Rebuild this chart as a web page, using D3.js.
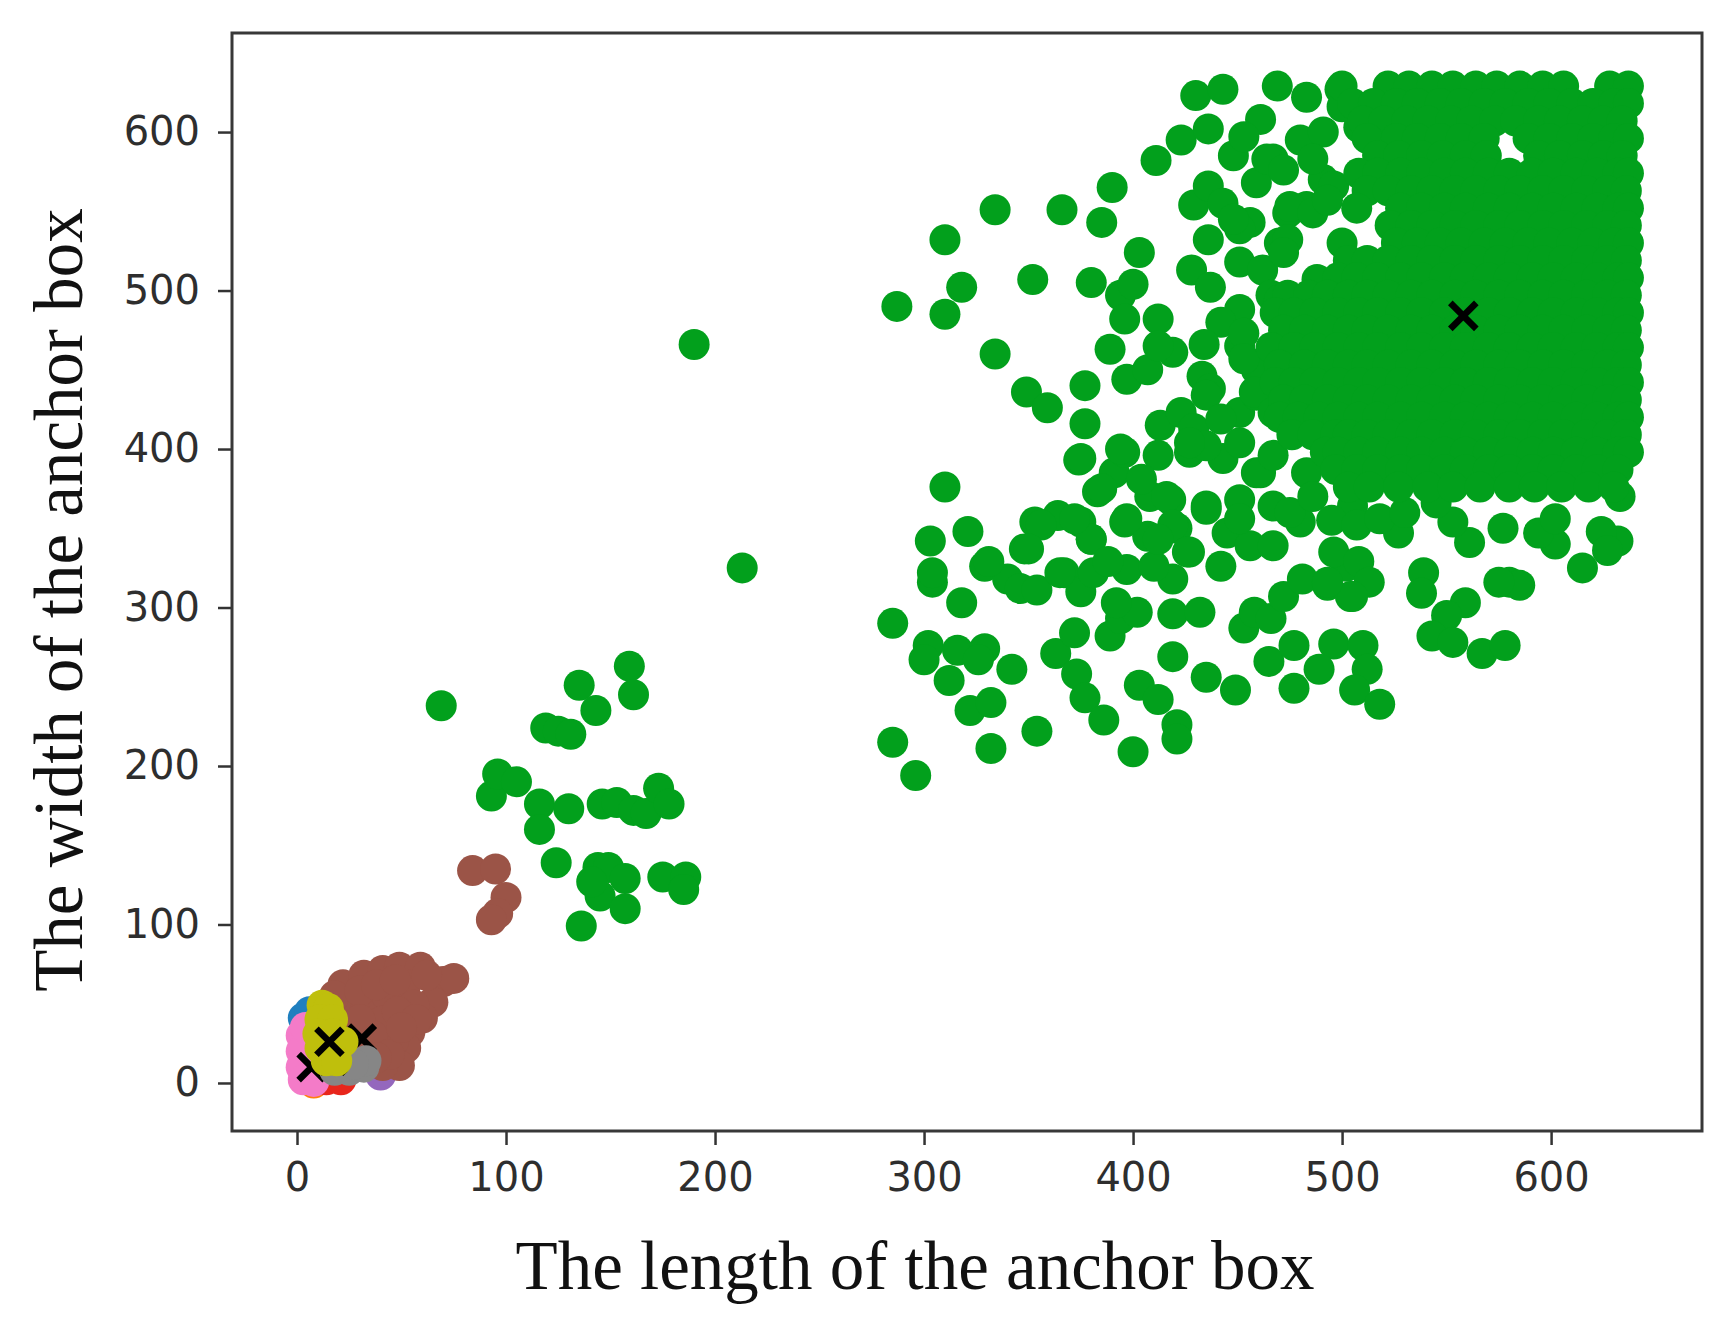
<!DOCTYPE html>
<html>
<head>
<meta charset="utf-8">
<script src="https://cdn.jsdelivr.net/npm/d3@7"></script>
<style>
  body { margin: 0; background: #fff; }
  .tick text { font-family: "DejaVu Sans", sans-serif; font-size: 40px; fill: #2e2e2e; }
  .tick line { stroke: #333; stroke-width: 2.5; }
  .axis-title { font-family: "Liberation Serif", "Times New Roman", serif; font-size: 69px; fill: #111; }
</style>
</head>
<body>
<div id="chart"></div>
<script>
/* DATA */
const xTicks = [0, 100, 200, 300, 400, 500, 600];
const yTicks = [0, 100, 200, 300, 400, 500, 600];
const xLabel = 'The length of the anchor box';
const yLabel = 'The width of the anchor box';

// small clusters near the origin
const bluePts = [[3, 41], [6, 45]];
const orangePts = [[8, 0]];
const redPts = [[14, 2], [21, 2]];
const purplePts = [[40, 5]];
const brownPts = [
  [22, 62], [32, 68], [41, 71], [49, 73], [59, 73], [70, 64], [75, 66], [65, 51], [60, 41],
  [54, 32], [52, 22], [49, 11], [41, 11], [33, 22], [27, 32], [24, 45], [33, 49], [43, 55],
  [52, 62], [41, 39], [46, 26], [56, 49], [62, 68], [18, 55], [30, 58], [38, 62], [47, 65],
  [36, 30], [30, 40], [48, 45], [44, 18], [38, 16], [57, 40], [50, 35],
  [84, 134], [95, 135], [100, 117], [96, 107], [93, 103]
];
const pinkPts = [[2, 30], [2, 20], [2, 10], [3, 2], [8, 1], [4, 35]];
const grayPts = [[18, 8], [25, 8], [32, 10], [33, 14], [27, 12]];
const olivePts = [
  [12, 49], [15, 47], [11, 40], [17, 40], [10, 31], [17, 31], [11, 22], [18, 22], [22, 26],
  [14, 14], [19, 14]
];

// green cluster: scattered points
const greenPts = [
  [69, 238], [93, 181], [96, 195], [105, 190], [116, 176], [116, 160], [119, 224], [125, 222],
  [131, 220], [130, 173], [124, 139], [135, 251], [143, 235], [159, 263], [161, 245], [146, 176],
  [153, 177], [161, 172], [167, 170], [173, 186], [178, 176], [144, 136], [149, 136], [157, 129],
  [145, 118], [157, 110], [136, 99], [175, 130], [186, 130], [185, 122], [141, 127], [190, 466],
  [213, 325],
  [310, 376], [303, 342], [321, 348], [304, 316], [318, 303], [285, 290], [302, 276], [300, 267],
  [316, 273], [329, 274], [326, 267], [312, 254], [342, 261], [322, 235], [332, 240], [285, 215],
  [296, 194], [332, 211], [354, 222], [363, 271], [372, 284], [373, 258], [377, 243], [386, 229],
  [400, 209], [421, 226], [421, 217], [403, 251], [412, 242], [419, 269], [435, 256], [449, 248],
  [465, 266], [389, 282], [394, 293], [402, 297], [392, 303], [419, 296], [432, 297], [453, 287],
  [458, 297], [466, 293], [472, 307], [481, 318], [493, 314], [504, 307], [329, 326], [340, 318],
  [346, 312], [354, 311], [348, 337], [353, 354], [364, 358], [375, 354], [380, 343], [367, 322],
  [375, 310], [381, 322], [374, 393], [383, 373], [391, 385], [396, 398], [396, 354], [397, 324],
  [408, 370], [407, 345], [418, 368], [421, 350], [427, 335], [419, 318], [410, 326], [435, 364],
  [442, 326], [445, 347], [456, 339], [467, 339], [459, 385], [467, 364], [483, 385], [480, 354],
  [502, 326], [505, 364], [412, 396], [427, 398], [443, 394], [451, 368],
  [287, 490], [310, 532], [310, 485], [318, 502], [334, 551], [334, 460], [352, 507], [366, 551],
  [385, 543], [390, 565], [403, 524], [380, 505], [394, 497], [400, 504], [396, 482], [412, 482],
  [389, 463], [397, 444], [407, 450], [419, 461], [412, 465], [349, 436], [359, 426], [377, 440],
  [377, 416], [375, 394], [411, 582], [423, 595], [430, 623], [443, 627], [436, 602], [429, 554],
  [436, 566], [443, 555], [456, 543], [451, 539], [436, 532], [428, 513], [437, 502], [451, 518],
  [462, 513], [451, 488], [442, 480], [434, 466], [433, 446], [437, 438], [413, 415], [423, 423],
  [394, 400], [385, 375], [404, 381], [416, 370], [429, 413], [435, 402], [451, 423], [459, 434],
  [451, 465], [459, 450], [466, 497], [470, 530], [474, 549], [448, 585], [461, 608], [453, 597],
  [469, 629], [483, 622], [499, 627], [459, 568], [467, 583], [480, 595], [483, 553], [491, 570],
  [435, 362], [451, 356], [461, 385], [467, 396], [475, 360], [486, 370], [419, 352], [426, 335],
  [412, 343], [397, 356], [380, 343], [372, 356], [356, 352], [350, 337], [331, 329], [304, 322],
  [365, 322], [388, 329], [464, 583], [491, 600], [508, 603], [472, 576], [486, 583], [496, 566],
  [448, 545], [475, 553], [474, 532], [486, 549], [493, 557], [472, 524], [470, 494], [483, 494],
  [488, 507], [453, 473], [453, 457], [435, 434], [442, 419], [458, 436], [467, 423], [475, 436],
  [427, 404], [451, 404], [500, 616], [500, 629],
  [633, 370], [632, 342], [624, 348], [627, 336], [615, 325], [602, 340], [594, 347], [602, 356],
  [577, 350], [561, 341], [553, 354], [580, 316], [585, 314], [575, 316], [539, 322], [538, 309],
  [559, 303], [550, 295], [543, 282], [553, 278], [567, 271], [578, 276], [527, 347], [496, 335],
  [508, 329], [513, 316], [505, 307], [493, 316], [477, 276], [496, 277], [510, 276], [512, 261],
  [489, 261], [477, 249], [506, 248], [518, 239], [495, 355], [507, 352], [518, 356], [530, 360],
  [545, 366]
];

// green cluster: the dense block, one row per width value [width, [lengths]]
const greenRows = [
  [629, [522, 532, 543, 553, 564, 574, 585, 596, 606, 628, 637]],
  [618, [505, 515, 526, 536, 547, 557, 568, 578, 589, 599, 610, 620, 630, 637]],
  [607, [510, 520, 531, 541, 552, 562, 573, 583, 594, 604, 615, 625, 634]],
  [596, [512, 526, 536, 547, 557, 568, 589, 599, 610, 620, 630, 637]],
  [585, [517, 527, 538, 548, 559, 569, 594, 604, 615, 625, 634]],
  [574, [508, 517, 528, 538, 549, 559, 570, 580, 591, 601, 612, 622, 632, 637]],
  [563, [512, 522, 533, 543, 554, 564, 575, 585, 596, 606, 617, 627, 636]],
  [552, [507, 528, 538, 549, 559, 570, 580, 591, 601, 612, 622, 632, 637]],
  [541, [523, 533, 543, 554, 564, 575, 585, 596, 606, 617, 627, 636]],
  [530, [500, 526, 536, 547, 557, 568, 578, 589, 599, 610, 620, 630, 637]],
  [519, [503, 512, 522, 533, 543, 554, 564, 575, 585, 596, 606, 617, 627, 636]],
  [508, [498, 507, 517, 528, 538, 549, 559, 570, 580, 591, 601, 612, 622, 632, 637]],
  [497, [474, 484, 493, 503, 512, 522, 533, 543, 554, 564, 575, 585, 596, 606, 617, 627, 636]],
  [486, [468, 477, 487, 498, 508, 517, 528, 538, 549, 559, 570, 580, 591, 601, 612, 622, 632, 637]],
  [475, [472, 482, 493, 503, 512, 522, 533, 543, 554, 564, 575, 585, 596, 606, 617, 627, 636]],
  [464, [466, 477, 487, 498, 508, 517, 528, 538, 549, 559, 570, 580, 591, 601, 612, 622, 632, 637]],
  [453, [470, 482, 493, 503, 512, 522, 533, 543, 554, 564, 575, 585, 596, 606, 617, 627, 636]],
  [442, [468, 477, 487, 498, 508, 517, 528, 538, 549, 559, 570, 580, 591, 601, 612, 622, 632, 637]],
  [431, [472, 482, 493, 503, 512, 522, 533, 543, 554, 564, 575, 585, 596, 606, 617, 627, 636]],
  [420, [470, 479, 489, 498, 508, 517, 528, 538, 549, 559, 570, 580, 591, 601, 612, 622, 632, 637]],
  [409, [476, 486, 497, 503, 512, 522, 533, 543, 554, 564, 575, 585, 596, 606, 617, 627, 636]],
  [398, [492, 498, 508, 517, 528, 538, 549, 559, 570, 580, 591, 601, 612, 622, 632, 637]],
  [387, [497, 507, 517, 528, 538, 549, 559, 570, 580, 591, 601, 612, 622, 632]],
  [376, [503, 513, 527, 541, 553, 566, 580, 592, 605, 618, 630]]
];

// cluster centres (only the ones that show in the figure)
const greenCentre = [558, 484];
const brownCentre = [31, 28];
const pinkCentre = [7, 10];
const grayCentre = [17, 14];
const oliveCentre = [15.5, 26];

/* LAYOUT */
const margin = { top: 33, right: 21, bottom: 189, left: 232 };
const width = 1723 - margin.left - margin.right;
const height = 1320 - margin.top - margin.bottom;
const radius = 15.5;

const svg = d3.select('#chart')
  .append('svg')
  .attr('width', 1723)
  .attr('height', 1320)
  .append('g')
  .attr('transform', `translate(${margin.left}, ${margin.top})`);

const x = d3.scaleLinear().domain([-31.1, 672.2]).range([0, width]);
const y = d3.scaleLinear().domain([-30.3, 662.5]).range([height, 0]);

svg.append('clipPath').attr('id', 'plot-clip')
  .append('rect').attr('width', width).attr('height', height);

const plot = svg.append('g').attr('clip-path', 'url(#plot-clip)');

const greenAll = greenPts.concat(greenRows.flatMap(([w, ls]) => ls.map(l => [l, w])));

// drawing order follows the cluster order, each centre right after its points
const clusters = [
  { pts: bluePts, color: '#1f7fbf' },
  { pts: orangePts, color: '#ff7f0e' },
  { pts: greenAll, color: '#02a01c', centre: greenCentre },
  { pts: redPts, color: '#e8261c' },
  { pts: purplePts, color: '#9467bd' },
  { pts: brownPts, color: '#9b5447', centre: brownCentre },
  { pts: pinkPts, color: '#f47bc8', centre: pinkCentre },
  { pts: grayPts, color: '#868686', centre: grayCentre },
  { pts: olivePts, color: '#bfbf0c', centre: oliveCentre }
];

const cross = 'M-13,-13L13,13M-13,13L13,-13';

clusters.forEach(c => {
  const g = plot.append('g');
  g.selectAll('circle')
    .data(c.pts)
    .enter()
    .append('circle')
    .attr('cx', d => x(d[0]))
    .attr('cy', d => y(d[1]))
    .attr('r', radius)
    .attr('fill', c.color);

  if (c.centre) {
    g.append('path')
      .attr('d', cross)
      .attr('transform', `translate(${x(c.centre[0])}, ${y(c.centre[1])})`)
      .attr('stroke', '#000')
      .attr('stroke-width', 6.5)
      .attr('fill', 'none');
  }
});

// Axes
svg.append('g')
  .attr('transform', `translate(0, ${height})`)
  .call(d3.axisBottom(x).tickValues(xTicks).tickSize(14).tickPadding(18))
  .call(g => g.select('.domain').remove());

svg.append('g')
  .call(d3.axisLeft(y).tickValues(yTicks).tickSize(14).tickPadding(18))
  .call(g => g.select('.domain').remove());

// frame
svg.append('rect')
  .attr('width', width)
  .attr('height', height)
  .attr('fill', 'none')
  .attr('stroke', '#383838')
  .attr('stroke-width', 3);

// titles
svg.append('text')
  .attr('class', 'axis-title')
  .attr('x', 683)
  .attr('y', 1256)
  .attr('text-anchor', 'middle')
  .text(xLabel);

svg.append('text')
  .attr('class', 'axis-title')
  .attr('transform', `translate(-150, 567) rotate(-90)`)
  .attr('text-anchor', 'middle')
  .text(yLabel);
</script>
</body>
</html>
